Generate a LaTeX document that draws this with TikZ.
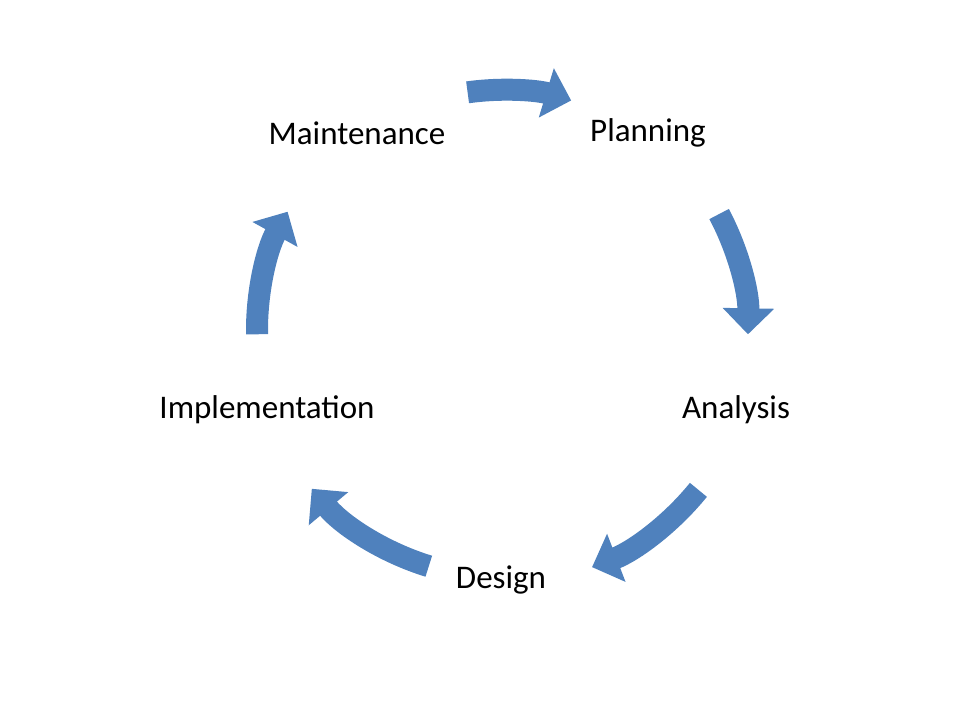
\documentclass[tikz,border=0pt]{standalone}
\usepackage{fontspec}
\setmainfont{Carlito}
\usetikzlibrary{arrows.meta,calc}
\definecolor{sblue}{HTML}{4F81BD}
\begin{document}
\begin{tikzpicture}[x=1pt,y=-1pt,
  lbl/.style={font=\fontsize{33}{38}\selectfont, inner sep=0pt},
  cyc/.style={draw=sblue, line width=22pt, -{Triangle[width=50pt,length=26pt]}}]
\useasboundingbox (0,0) rectangle (960,720);
\coordinate (c) at (501,330);
\node[lbl] (plan) at (648,133) {Planning};
\node[lbl] (ana) at (736,410) {Analysis};
\node[lbl] (des) at (501,580) {Design};
\node[lbl] (imp) at (267,410) {Implementation};
\node[lbl] (main) at (357,133) {Maintenance};
\draw[cyc] ($(c)+(-98:240)$) arc[start angle=-98, end angle=-73, radius=240];
\draw[cyc] ($(c)+(-28:247)$) arc[start angle=-28, end angle=1, radius=247];
\draw[cyc] ($(c)+(39:254)$) arc[start angle=39, end angle=69, radius=254];
\draw[cyc] ($(c)+(107:247)$) arc[start angle=107, end angle=140, radius=247];
\draw[cyc] ($(c)+(179:244)$) arc[start angle=179, end angle=209, radius=244];
\end{tikzpicture}
\end{document}
